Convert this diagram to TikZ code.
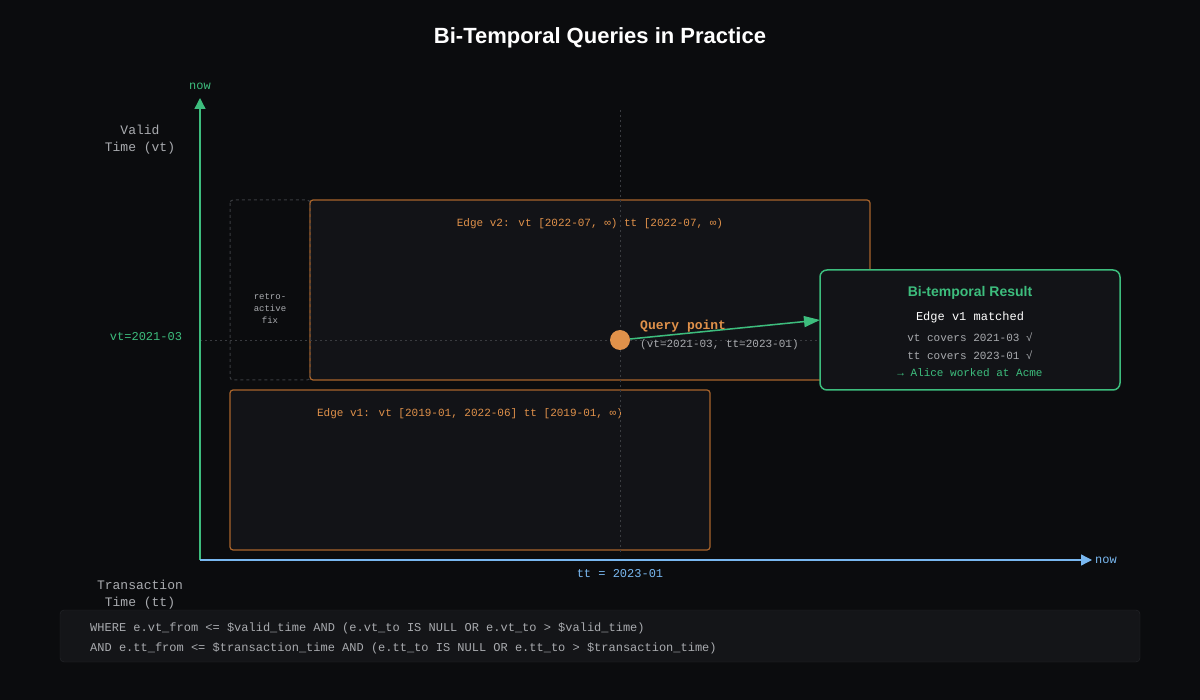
\documentclass[tikz,border=0pt]{standalone}
\usepackage{fontspec}
\setmainfont{Liberation Sans}
\newfontfamily\mono{Liberation Mono}
\usetikzlibrary{arrows.meta}
\definecolor{bg}{HTML}{0B0C0E}
\definecolor{panel}{HTML}{121317}
\definecolor{grn}{HTML}{3DBD7D}
\definecolor{blu}{HTML}{79B8F0}
\definecolor{org}{HTML}{A8642C}
\definecolor{orgt}{HTML}{E0914A}
\definecolor{gry}{HTML}{A9ABAF}
\definecolor{dim}{HTML}{3A3C40}
\definecolor{codebg}{HTML}{141518}
\definecolor{codeln}{HTML}{26282C}
\begin{document}
\begin{tikzpicture}[x=1pt,y=-1pt,
  lbl/.style={font=\mono\fontsize{12}{14}\selectfont,text=gry,align=center},
  edgebox/.style={draw=org,fill=panel,rounded corners=3pt,line width=1.2pt},
  guide/.style={draw=dim,dash pattern=on 2pt off 3pt,line width=0.8pt}]
\useasboundingbox (0,0) rectangle (1200,700);
\fill[bg] (0,0) rectangle (1200,700);
\node[font=\bfseries\fontsize{22}{26}\selectfont,text=white] (title) at (600,38) {Bi-Temporal Queries in Practice};
% boxes
\draw[edgebox] (310,200) rectangle (870,380);
\node[lbl,font=\mono\fontsize{11}{13}\selectfont,text=orgt] (v2) at (590,224) {Edge v2: vt [2022-07, ∞) tt [2022-07, ∞)};
\draw[draw=dim,dash pattern=on 3pt off 3pt,rounded corners=3pt,line width=1pt] (230,200) rectangle (310,380);
\node[font=\mono\fontsize{9}{12}\selectfont,text=gry,align=center] (fix) at (270,309) {retro-\\active\\fix};
\draw[edgebox] (230,390) rectangle (710,550);
\node[lbl,font=\mono\fontsize{11}{13}\selectfont,text=orgt] (v1) at (470,414) {Edge v1: vt [2019-01, 2022-06] tt [2019-01, ∞)};
% guides
\draw[guide] (620,110) -- (620,555);
\draw[guide] (200,340) -- (820,340);
% axes
\coordinate (o) at (200,560);
\coordinate (ytop) at (200,98);
\coordinate (xend) at (1092,560);
\draw[grn,line width=1.3pt,-{Triangle[length=11pt,width=11pt]}] (o) -- (ytop);
\draw[blu,line width=1.3pt,-{Triangle[length=11pt,width=11pt]}] (o) -- (xend);
\node[lbl,text=grn] (ynow) at (200,86) {now};
\node[lbl,text=blu,anchor=west,inner sep=1pt] (xnow) at (1094,560) {now};
\node[lbl,font=\mono\fontsize{13}{17}\selectfont] (vtl) at (140,140) {Valid\\Time (vt)};
\node[lbl,font=\mono\fontsize{13}{17}\selectfont] (ttl) at (140,595) {Transaction\\Time (tt)};
\node[lbl,text=grn] (vtv) at (146,337) {vt=2021-03};
\node[lbl,text=blu] (ttv) at (620,574) {tt = 2023-01};
% result
\node[draw=grn,fill=panel,rounded corners=7pt,line width=1.5pt,minimum width=300pt,minimum height=120pt] (res) at (970,330) {};
\node[font=\bfseries\fontsize{14}{16}\selectfont,text=grn] (rt) at (970,293) {Bi-temporal Result};
\node[lbl,text=white,font=\mono\fontsize{12}{14}\selectfont] (r1) at (970,317) {Edge v1 matched};
\node[lbl,font=\mono\fontsize{11}{13}\selectfont] (r2) at (970,337) {vt covers 2021-03 √};
\node[lbl,font=\mono\fontsize{11}{13}\selectfont] (r3) at (970,355) {tt covers 2023-01 √};
\node[lbl,text=grn,font=\mono\fontsize{11}{13}\selectfont] (r4) at (970,373) {→ Alice worked at Acme};
% query point
\node[circle,fill=orgt,minimum size=20pt,inner sep=0pt] (q) at (620,340) {};
\coordinate (rin) at (820,320);
\draw[grn,line width=1.5pt,-{Triangle[length=16pt,width=11pt]}] (q) -- (rin);
\node[font=\mono\bfseries\fontsize{13}{15}\selectfont,text=orgt,anchor=west,inner sep=0pt] (ql) at (640,326) {Query point};
\node[lbl,font=\mono\fontsize{11}{13}\selectfont,anchor=west,inner sep=0pt] (qc) at (640,345) {(vt=2021-03, tt=2023-01)};
% code
\node[draw=codeln,fill=codebg,rounded corners=4pt,minimum width=1080pt,minimum height=52pt] (code) at (600,636) {};
\node[lbl,anchor=west,align=left,inner sep=0pt,font=\mono\fontsize{12}{20}\selectfont] (sql) at (90,638) {WHERE e.vt\_from <= \$valid\_time AND (e.vt\_to IS NULL OR e.vt\_to > \$valid\_time)\\AND e.tt\_from <= \$transaction\_time AND (e.tt\_to IS NULL OR e.tt\_to > \$transaction\_time)};
\end{tikzpicture}
\end{document}
